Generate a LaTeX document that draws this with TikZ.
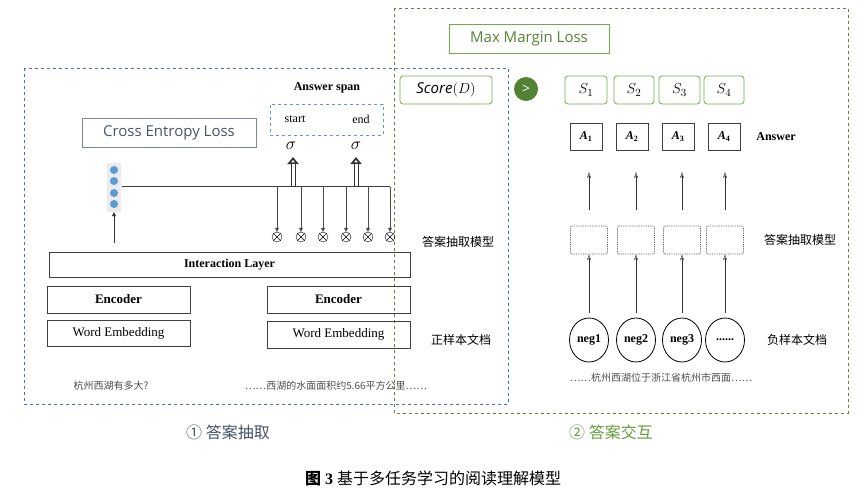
\documentclass[tikz,border=0pt]{standalone}
\usepackage{fontspec}
\setmainfont{Liberation Serif}
\newfontfamily\cjk{Noto Sans CJK SC}
\newfontfamily\osans{Open Sans}
\usetikzlibrary{arrows.meta,shapes.geometric}
\definecolor{gblue}{HTML}{4472C4}
\definecolor{ggreen}{HTML}{70AD47}
\definecolor{dgreen}{HTML}{548235}
\definecolor{slate}{HTML}{44546A}
\definecolor{dotblue}{HTML}{5B9BD5}
\begin{document}
\begin{tikzpicture}[x=1pt,y=-1pt,
 box/.style={draw=black!75,thick,minimum height=#1,inner sep=0pt},
 sbox/.style={draw=ggreen,thick,rounded corners=3pt,minimum width=40,minimum height=28,font=\osans\itshape\fontsize{15}{15}\selectfont},
 abox/.style={draw=black!75,thick,minimum width=32,minimum height=27,font=\bfseries\itshape\fontsize{12}{12}\selectfont},
 dbox/.style={draw=black!70,densely dotted,thick,rounded corners=2pt,minimum width=37,minimum height=28},
 neg/.style={draw=black,thick,ellipse,minimum width=39,minimum height=44,inner sep=0pt,font=\bfseries\fontsize{12}{12}\selectfont},
 otimes/.style={circle,draw=black,inner sep=0pt,minimum size=10,path picture={\draw (path picture bounding box.north west)--(path picture bounding box.south east) (path picture bounding box.north east)--(path picture bounding box.south west);}},
 cn/.style={font=\cjk\fontsize{12}{12}\selectfont},
 arr/.style={-{Stealth[length=6pt,width=4pt,open]},black!80},
 darr/.style={-{Triangle[length=4pt,width=4pt]},black!70}]
\useasboundingbox (0,0) rectangle (867,490);
% frames
\draw[gblue,thick,dashed] (24,68) rectangle (508,404);
\draw[ggreen!80!black,thick,dashed] (394,8) rectangle (848,413);
% left part
\node[box=25,minimum width=361,font=\bfseries\fontsize{12}{12}\selectfont] (il) at (229.5,264.5) {Interaction Layer};
\node[box=27,minimum width=143,font=\bfseries\fontsize{13}{13}\selectfont] (enc1) at (118.5,299.5) {Encoder};
\node[box=27,minimum width=143,font=\bfseries\fontsize{13}{13}\selectfont] (enc2) at (338.5,299.5) {Encoder};
\node[box=26,minimum width=143,font=\fontsize{13}{13}\selectfont] (we1) at (118.5,333) {Word Embedding};
\node[box=27,minimum width=143,font=\fontsize{13}{13}\selectfont] (we2) at (338.5,334.5) {Word Embedding};
\node[cn] (zy) at (461,340) {正样本文档};
\node[font=\cjk\fontsize{10}{10}\selectfont,text=black!70] (q) at (111,386) {杭州西湖有多大?};
\node[font=\cjk\fontsize{10}{10}\selectfont,text=black!70] (p) at (336,386) {……西湖的水面面积约5.66平方公里……};
\node[draw=slate!70,thick,minimum width=174,minimum height=29,font=\osans\fontsize{15}{15}\selectfont,text=slate] (ce) at (169,132.5) {Cross Entropy Loss};
\node[fill=black!8,rounded corners=1pt,minimum width=14,minimum height=49,inner sep=0pt] (vec) at (114,187.5) {};
\foreach \yy in {170,181,193,204}{\fill[dotblue] (114,\yy) circle (4);}
\coordinate (vb) at (114,243);
\draw[-{Triangle[length=4pt,width=4pt]},black!80] (vb) -- (vec.south);
\coordinate (hl) at (122,186.5);
\coordinate (hr) at (390,186.5);
\draw[black!75] (hl) -- (hr);
\foreach \xx [count=\i] in {277,301,323,346,368,390}{
  \node[otimes] (o\i) at (\xx,237) {};
  \coordinate (t\i) at (\xx,186.5);
  \draw[darr] (t\i) -- (o\i.north);
}
\node[font=\bfseries\fontsize{12}{12}\selectfont] (as) at (327,88) {Answer span};
\node[draw=dotblue,thick,dashed,minimum width=113,minimum height=31] (span) at (326.5,119.5) {};
\node[font=\fontsize{12}{12}\selectfont] (st) at (295,119) {start};
\node[font=\fontsize{12}{12}\selectfont] (en) at (361,119) {end};
\node[font=\itshape\fontsize{18}{18}\selectfont] (s1) at (291,146) {$\sigma$};
\node[font=\itshape\fontsize{18}{18}\selectfont] (s2) at (356,146) {$\sigma$};
\coordinate (ha) at (293,186.5);
\coordinate (hat) at (293,157);
\coordinate (hb) at (356,186.5);
\coordinate (hbt) at (356,157);
\foreach \p/\q in {ha/hat,hb/hbt}{
\draw[black!80,thick,-{Triangle[open,length=7pt,width=11pt]},line width=5pt] (\p) -- (\q);
\draw[white,line width=3pt,shorten <=1pt,shorten >=7pt] (\p) -- (\q);
}
\node[cn] (ex1) at (458,242) {答案抽取模型};
% right part
\node[draw=ggreen,thick,minimum width=160,minimum height=29,font=\osans\fontsize{15}{15}\selectfont,text=dgreen] (mm) at (529,38.5) {Max Margin Loss};
\node[sbox,minimum width=92] (sc) at (446,90) {Score$(D)$};
\node[circle,fill=dgreen,minimum size=24,inner sep=0pt,text=white,font=\osans\fontsize{14}{14}\selectfont] (gt) at (526,89) {>};
\foreach \xx/\w [count=\i] in {586/42,634/40,679.5/41,724/40}{
  \node[sbox,minimum width=\w] (S\i) at (\xx,90) {$S_{\i}$};
}
\foreach \xx [count=\i] in {586,632,678,724}{
  \node[abox] (A\i) at (\xx,136.5) {A$_{\mathbf{\i}}$};
}
\node[font=\bfseries\fontsize{12}{12}\selectfont] (ans) at (776,137) {Answer};
\foreach \xx/\lab [count=\i] in {589/neg1,636/neg2,682/neg3,725/{......}}{
  \node[dbox] (D\i) at (\xx,240) {};
  \node[neg] (N\i) at (\xx,340) {\lab};
  \coordinate (u\i) at (\xx,210);
  \coordinate (ut\i) at (\xx,172);
  \coordinate (lb\i) at (\xx,313);
  \draw[arr] (lb\i) -- (D\i.south);
  \draw[arr] (u\i) -- (ut\i);
}
\node[cn] (ex2) at (800,240) {答案抽取模型};
\node[cn] (fy) at (797,340) {负样本文档};
\node[font=\cjk\fontsize{10}{10}\selectfont,text=black!70] (pn) at (661,378) {……杭州西湖位于浙江省杭州市西面……};
\node[font=\cjk\fontsize{16}{16}\selectfont,text=slate] (l1) at (228,432) {① 答案抽取};
\node[font=\cjk\fontsize{16}{16}\selectfont,text=ggreen!90!black] (l2) at (611,432) {② 答案交互};
\node[font=\fontsize{16}{16}\selectfont] (cap) at (433,478) {\textbf{\cjk 图}\textbf{ 3} {\cjk 基于多任务学习的阅读理解模型}};
\end{tikzpicture}
\end{document}
